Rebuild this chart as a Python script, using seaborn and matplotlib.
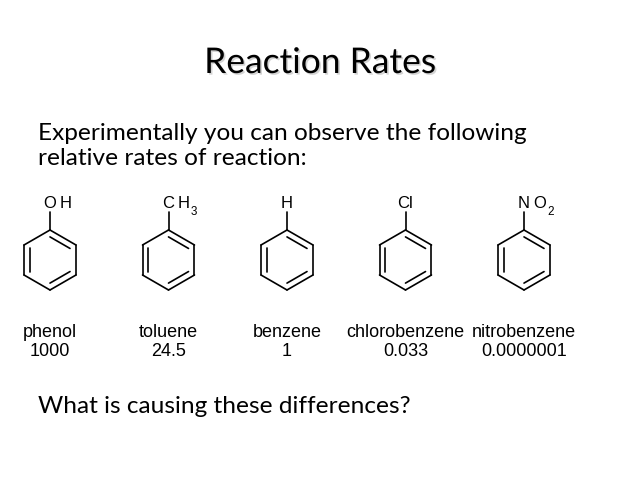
import numpy as np
import pandas as pd
import matplotlib
matplotlib.use("Agg")
import matplotlib.pyplot as plt
import matplotlib.patheffects as pe
import seaborn as sns

# slide content
title = "Reaction Rates"
intro = ["Experimentally you can observe the following",
         "relative rates of reaction:"]
question = "What is causing these differences?"

compounds = ["phenol", "toluene", "benzene", "chlorobenzene", "nitrobenzene"]
rates = ["1000", "24.5", "1", "0.033", "0.0000001"]
# substituent written as atoms; digits are subscripts
substituents = [["O", "H"], ["C", "H", "3"], ["H"], ["Cl"], ["N", "O", "2"]]

sns.set_theme(style="white")
plt.rcParams["font.family"] = ["Liberation Sans", "DejaVu Sans"]

W, H = 638, 478
fig = plt.figure(figsize=(W / 100, H / 100), dpi=100)
ax = fig.add_axes([0, 0, 1, 1])

# ring geometry (pixels)
x0, dx = 50, 118.5
cy, R = 260, 30
inner = 0.77
bond_top = 212


def ring_segments(i):
    cx = x0 + i * dx
    ang = np.deg2rad(90 - 60 * np.arange(6))
    vx = cx + R * np.cos(ang)
    vy = cy - R * np.sin(ang)
    segs = []
    for k in range(6):
        j = (k + 1) % 6
        segs.append([(vx[k], vy[k]), (vx[j], vy[j])])
    for k in (0, 2, 4):
        j = (k + 1) % 6
        segs.append([(cx + (vx[k] - cx) * inner, cy + (vy[k] - cy) * inner),
                     (cx + (vx[j] - cx) * inner, cy + (vy[j] - cy) * inner)])
    segs.append([(cx, cy - R), (cx, bond_top)])
    return segs


rows = []
seg_id = 0
for i, name in enumerate(compounds):
    for seg in ring_segments(i):
        for px, py in seg:
            rows.append({"compound": name, "seg": seg_id, "x": px, "y": py})
        seg_id += 1
df = pd.DataFrame(rows)

sns.lineplot(data=df, x="x", y="y", units="seg", estimator=None, sort=False,
             color="black", lw=1.2, legend=False, ax=ax)
ax.set_xlim(0, W)
ax.set_ylim(H, 0)
ax.axis("off")

# substituent labels, first atom centred on the bond
sub_fs = 12
for i, atoms in enumerate(substituents):
    cx = x0 + i * dx
    t = ax.text(cx, 208, atoms[0], ha="center", va="baseline",
                fontsize=sub_fs, color="black")
    prev = t
    for a in atoms[1:]:
        if a.isdigit():
            prev = ax.annotate(a, xy=(1, 0), xycoords=prev, xytext=(1, -3),
                               textcoords="offset points", ha="left", va="baseline",
                               fontsize=sub_fs * 0.7, color="black")
        else:
            prev = ax.annotate(a, xy=(1, 0), xycoords=prev, xytext=(2, 0),
                               textcoords="offset points", ha="left", va="bottom",
                               fontsize=sub_fs, color="black")

for i, (name, r) in enumerate(zip(compounds, rates)):
    cx = x0 + i * dx
    ax.text(cx, 337, name, ha="center", va="baseline", fontsize=13, color="black")
    ax.text(cx, 356, r, ha="center", va="baseline", fontsize=13, color="black")

body_font = ["Lato", "DejaVu Sans"]
ax.text(W / 2 + 1, 73, title, ha="center", va="baseline", fontsize=25.5,
        family=body_font, color="black",
        path_effects=[pe.SimplePatchShadow(offset=(1.2, -1.2), shadow_rgbFace="#aaaaaa", alpha=0.5),
                      pe.Normal()])
for k, line in enumerate(intro):
    ax.text(38, 140 + 25 * k, line, ha="left", va="baseline", fontsize=17.6,
            family=body_font, color="black")
ax.text(38, 413, question, ha="left", va="baseline", fontsize=17.6,
        family=body_font, color="black")

fig.savefig("out.png", dpi=100, facecolor="white")
